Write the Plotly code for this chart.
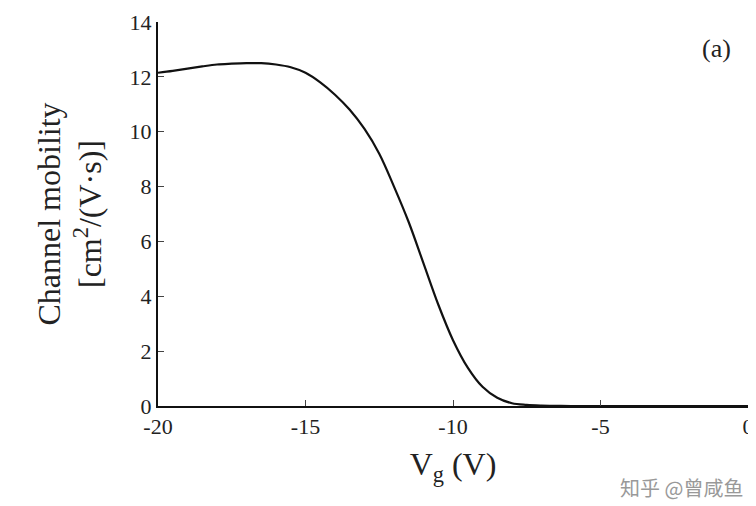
import plotly.graph_objects as go

vg = [-20, -19.5, -19, -18.5, -18, -17.5, -17, -16.5, -16, -15.5, -15, -14.5, -14, -13.5, -13, -12.5, -12, -11.5, -11, -10.5, -10, -9.5, -9, -8.5, -8, -7.5, -7, -6.5, -6, -5, -4, -3, -2, -1, 0]
mob = [12.15, 12.22, 12.3, 12.38, 12.45, 12.48, 12.5, 12.5, 12.45, 12.35, 12.15, 11.8, 11.35, 10.8, 10.1, 9.2, 8.0, 6.7, 5.2, 3.7, 2.4, 1.4, 0.7, 0.3, 0.1, 0.04, 0.015, 0.005, 0, 0, 0, 0, 0, 0, 0]

font = "Liberation Serif, Times New Roman, serif"
fig = go.Figure(go.Scatter(x=vg, y=mob, mode="lines", line=dict(color="#111", width=2.2, shape="spline")))
fig.update_layout(
    width=756, height=506, paper_bgcolor="white", plot_bgcolor="white",
    margin=dict(l=150, r=16, t=14, b=108, autoexpand=False), showlegend=False,
    font=dict(family=font, size=20, color="#222"),
    annotations=[
        dict(text="(a)", x=0.975, y=0.975, xref="paper", yref="paper", showarrow=False,
             xanchor="right", yanchor="top", font=dict(size=26, family=font)),
        dict(text="知乎 @曾咸鱼", x=0.995, y=-0.17, xref="paper", yref="paper", showarrow=False,
             xanchor="right", yanchor="top", font=dict(size=20, family="Noto Sans CJK SC", color="#999")),
    ],
)
fig.update_xaxes(range=[-20, 0], tickvals=[-20, -15, -10, -5, 0], ticktext=["-20", "-15", "-10", "-5", "0"],
                 ticks="inside", ticklen=6, showline=True, linecolor="#111", linewidth=2, showgrid=False,
                 zeroline=False, tickfont=dict(size=22), automargin=False,
                 title=dict(text="V<sub>g</sub> (V)", font=dict(size=32), standoff=14))
fig.update_yaxes(range=[0, 14], dtick=2, ticks="inside", ticklen=6, showline=True, linecolor="#111", linewidth=2,
                 showgrid=False, zeroline=False, tickfont=dict(size=22), automargin=False,
                 title=dict(text="Channel mobility<br>[cm<sup>2</sup>/(V·s)]", font=dict(size=32), standoff=18))
fig.write_html("out.html")
